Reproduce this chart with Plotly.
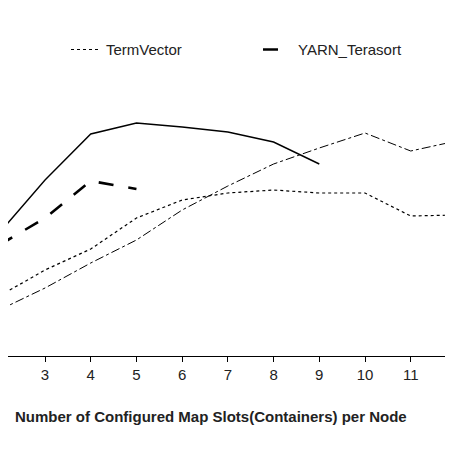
import plotly.graph_objects as go

# map slots per node
slots = [2, 3, 4, 5, 6, 7, 8, 9, 10, 11, 12]

# values (relative height units)
terasort = [123, 176, 222, 233, 229, 224, 214, 192]
termvector = [60, 86, 107, 138, 156, 163, 166, 163, 163, 140, 141]
yarn_terasort = [111, 138, 175, 167]
yarn_termvector = [46, 68, 93, 116, 146, 170, 192, 208, 223, 205, 215]

series = [
    ("Terasort", slots[:len(terasort)], terasort, "solid", 1.4),
    ("TermVector", slots, termvector, "dot", 1.2),
    ("YARN_Terasort", slots[:len(yarn_terasort)], yarn_terasort, "longdash", 2.6),
    ("YARN_TermVector", slots, yarn_termvector, "dashdot", 1.0),
]
# left edge of each legend entry, in pixels
legend_px = [-75, 58, 250, 442]

fig = go.Figure()
layout_legends = {}
for i, (name, xs, ys, dash, w) in enumerate(series):
    key = "legend" if i == 0 else f"legend{i + 1}"
    fig.add_trace(go.Scatter(x=xs, y=ys, mode="lines", name=name, legend=key,
                             line=dict(color="black", dash=dash, width=w)))
    layout_legends[key] = dict(x=legend_px[i] / 453, y=0.88, xanchor="left",
                               yanchor="middle", font=dict(size=15),
                               bgcolor="rgba(0,0,0,0)")

fig.update_layout(
    width=453, height=453,
    margin=dict(l=0, r=0, t=0, b=105, autoexpand=False),
    plot_bgcolor="white", paper_bgcolor="white",
    font=dict(family="Liberation Sans", size=15, color="#222"),
    xaxis=dict(range=[2.19, 12.1], tickvals=slots, showline=True,
               linecolor="black", ticks="outside", ticklen=5, tickcolor="black",
               showgrid=False, zeroline=False, tickfont=dict(size=15)),
    yaxis=dict(range=[0, 348], visible=False),
    annotations=[dict(text="<b>Number of Configured Map Slots(Containers) per Node</b>",
                      xref="paper", yref="paper", x=5 / 453, y=-60 / 348,
                      xanchor="left", yanchor="middle", showarrow=False,
                      font=dict(size=15, color="#222"))],
    **layout_legends,
)

fig.write_html("out.html")
